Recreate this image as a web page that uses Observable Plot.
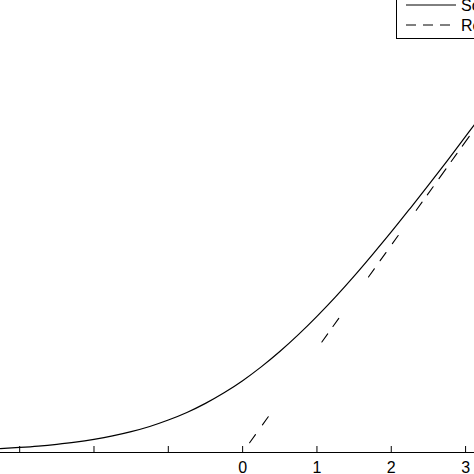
<!DOCTYPE html>
<html>
<head>
<meta charset="utf-8">
<script src="https://cdn.jsdelivr.net/npm/d3@7"></script>
<script src="https://cdn.jsdelivr.net/npm/@observablehq/plot@0.6"></script>
<style>
  html, body { margin: 0; padding: 0; background: #fff; }
  #chart { width: 474px; height: 474px; overflow: hidden; }
  svg { display: block; }
</style>
</head>
<body>
<div id="chart"></div>
<script>
// Smooth curve (solid)
const softX = [-3.26, -3.0, -2.75, -2.5, -2.25, -2.0, -1.75, -1.5, -1.25, -1.0, -0.75, -0.5, -0.25, 0.0, 0.25, 0.5, 0.75, 1.0, 1.25, 1.5, 1.75, 2.0, 2.25, 2.5, 2.75, 3.0, 3.12];
const softY = [0.038, 0.049, 0.062, 0.079, 0.100, 0.127, 0.160, 0.201, 0.251, 0.313, 0.386, 0.474, 0.576, 0.693, 0.826, 0.974, 1.137, 1.313, 1.501, 1.701, 1.911, 2.127, 2.351, 2.579, 2.811, 3.049, 3.163];
// Rectified line (dashed)
const reluX = [0, 3.12];
const reluY = [0, 3.12];
// Axis ticks
const tickValues = [-3, -2, -1, 0, 1, 2, 3];
const tickLabels = ["", "", "", "0", "1", "2", "3"];
// Legend labels (cut off at the right edge in the original)
const legendLabels = ["Softplus", "ReLU"];

const soft = softX.map((x, i) => ({x, y: softY[i]}));
const relu = reluX.map((x, i) => ({x, y: reluY[i]}));

const W = 474, H = 474;
const font = "'Liberation Sans', Arial, Helvetica, sans-serif";

const plot = Plot.plot({
  width: W,
  height: H,
  marginTop: 0,
  marginRight: 0,
  marginLeft: 0,
  marginBottom: 22,
  style: {fontFamily: font, fontSize: "16px", background: "#fff", color: "#000", overflow: "hidden"},
  x: {domain: [-3.258, 3.12], label: null},
  y: {domain: [0, 4.36], axis: null},
  marks: [
    Plot.ruleY([0], {stroke: "#000", strokeWidth: 1}),
    Plot.tickX(tickValues, {x: d => d, stroke: "#000", strokeWidth: 1, insetTop: 446}),
    Plot.axisX({ticks: tickValues, tickSize: 0, tickPadding: 9, label: null,
      tickFormat: d => tickLabels[tickValues.indexOf(d)], fontSize: 16, fill: "#000"}),
    Plot.line(relu, {x: "x", y: "y", stroke: "#000", strokeWidth: 1.1,
      strokeDasharray: "0,12,10,12,10,92,10,9,10,51,10,10,10,11,10,31,10,9,10,10,12,9,10,9,12,200"}),
    Plot.line(soft, {x: "x", y: "y", stroke: "#000", strokeWidth: 1.2, curve: "catmull-rom"})
  ]
});

document.getElementById("chart").appendChild(plot);

// Legend box inside the plot, top-right (partly cut off like the original)
const svg = d3.select(plot);
const lg = svg.append("g").attr("font-family", font).attr("font-size", 16).attr("text-anchor", "start");
lg.append("rect").attr("x", 396.5).attr("y", -10).attr("width", 120).attr("height", 48.5)
  .attr("fill", "#fff").attr("stroke", "#000").attr("stroke-width", 1);
const rows = [{dash: null, y: 5}, {dash: "10,7", y: 25}];
legendLabels.forEach((label, i) => {
  lg.append("line").attr("x1", 406).attr("x2", 456).attr("y1", rows[i].y).attr("y2", rows[i].y)
    .attr("stroke", "#000").attr("stroke-width", 1).attr("stroke-dasharray", rows[i].dash);
  lg.append("text").attr("x", 461).attr("y", rows[i].y).attr("dy", "0.35em")
    .attr("text-anchor", "start").attr("fill", "#000").text(label);
});
</script>
</body>
</html>
